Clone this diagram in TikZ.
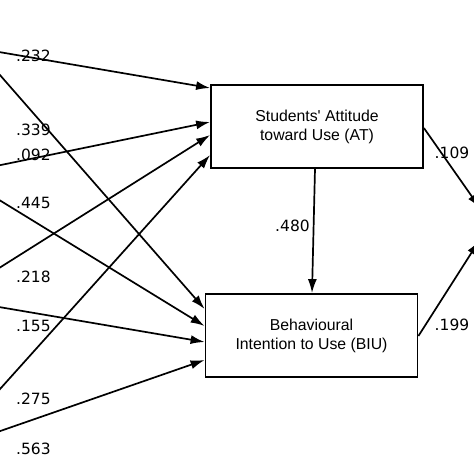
\documentclass[tikz,border=0pt]{standalone}
\usepackage{fontspec}
\usetikzlibrary{arrows.meta}
\newfontfamily\boxfont{Liberation Sans}
\newfontfamily\coeffont{DejaVu Sans}
\tikzset{
  construct/.style={draw, line width=1.8pt, minimum width=212pt, minimum height=83pt,
    align=center, inner sep=0pt, font=\boxfont\fontsize{15.8}{19}\selectfont},
  path/.style={line width=1.7pt, -{Latex[length=14pt,width=9pt]}},
  coef/.style={inner sep=0pt, font=\coeffont\fontsize{15.5}{18}\selectfont}
}
\begin{document}
\begin{tikzpicture}[x=1pt, y=-1pt]
					\useasboundingbox (0,0) rectangle (474,474);
					
					\node[construct] (AT) at (317,126.5) {Students' Attitude\\toward Use (AT)};
					\node[construct] (BIU) at (311.5,335.5) {Behavioural\\Intention to Use (BIU)};
					
					% free ends on the left and the right
					\coordinate (s1) at (-4,51.5);
					\coordinate (s2) at (-4,70.5);
					\coordinate (s3) at (-4,166);
					\coordinate (s4) at (-4,198);
					\coordinate (s5) at (-4,270);
					\coordinate (s6) at (-4,306.5);
					\coordinate (s7) at (-4,393.5);
					\coordinate (s8) at (-4,432.5);
					\coordinate (t1) at (480,208);
					\coordinate (t2) at (479,241);
					
					\draw[path] (s1) -- ([yshift=38.5pt]AT.west);
					\draw[path] (s3) -- ([yshift=4.5pt]AT.west);
					\draw[path] (s5) -- ([yshift=-8.5pt]AT.west);
					\draw[path] (s7) -- ([yshift=-28.5pt]AT.west);
					\draw[path] (s2) -- ([yshift=26.5pt]BIU.west);
					\draw[path] (s4) -- ([yshift=9.5pt]BIU.west);
					\draw[path] (s6) -- ([yshift=-6.5pt]BIU.west);
					\draw[path] (s8) -- ([yshift=-24.5pt]BIU.west);
					\draw[path] ([xshift=-2pt]AT.south) -- ([xshift=0.5pt]BIU.north);
					\draw[path] ([yshift=-1.5pt]AT.east) -- (t1);
					\draw[path] ([yshift=-0.5pt]BIU.east) -- (t2);
					
					\node[coef, anchor=west] at (16,56) {.232};
					\node[coef, anchor=west] at (16,130) {.339};
					\node[coef, anchor=west] at (16,155) {.092};
					\node[coef, anchor=west] at (16,203) {.445};
					\node[coef, anchor=west] at (16,277) {.218};
					\node[coef, anchor=west] at (16,326) {.155};
					\node[coef, anchor=west] at (16,399) {.275};
					\node[coef, anchor=west] at (16,449) {.563};
					\node[coef] at (292.5,225.5) {.480};
					\node[coef] at (452,152.5) {.109};
					\node[coef] at (452,325) {.199};
\end{tikzpicture}
\end{document}
